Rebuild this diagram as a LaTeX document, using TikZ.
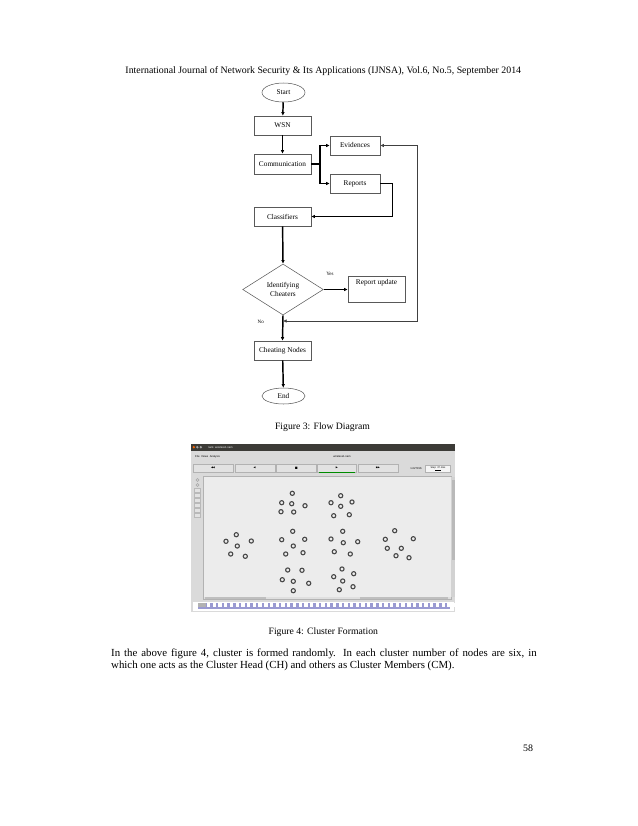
\documentclass[tikz,border=0pt]{standalone}
\usepackage{amssymb}
\usepackage{fontspec}
\setmainfont{Liberation Serif}
\setsansfont{Liberation Sans}
\usetikzlibrary{shapes.geometric,arrows.meta}
\newcommand\pxu{0.9592pt}
\definecolor{tbar}{HTML}{3C3B37}
\definecolor{winbg}{HTML}{DADADA}
\definecolor{canv}{HTML}{ECECEC}
\definecolor{btn}{HTML}{E2E2E2}
\definecolor{tline}{HTML}{9A9AD2}
\definecolor{nodegray}{HTML}{484848}
\begin{document}
\begin{tikzpicture}[x=0.9592pt,y=-0.9592pt,
  box/.style={draw=black!65,line width=0.5pt,minimum width=57*\pxu,minimum height=19*\pxu,inner sep=0pt,font=\fontsize{7}{8}\selectfont},
  sbox/.style={box,minimum width=50*\pxu},
  oval/.style={ellipse,draw=black!65,line width=0.5pt,minimum width=43*\pxu,minimum height=19*\pxu,inner sep=0pt,font=\fontsize{7}{8}\selectfont},
  flow/.style={line width=1.4pt,-{Latex[length=3.5pt,width=3.5pt]}},
  plain/.style={line width=1.4pt},
  fb/.style={line width=0.9pt,draw=black!75},
  fbarrow/.style={fb,-{Latex[length=3.5pt,width=3.5pt]}},
  lbl/.style={font=\fontsize{4.8}{5}\selectfont,inner sep=0pt},
  ptext/.style={inner sep=0pt,anchor=base west,font=\fontsize{10.4}{11.2}\selectfont},
  captext/.style={inner sep=0pt,anchor=base,font=\fontsize{9.3}{10}\selectfont},
  tiny/.style={inner sep=0pt,font=\sffamily\fontsize{2.6}{3}\selectfont},
  nodec/.style={draw=nodegray,line width=1.05pt,fill=canv}
]
\useasboundingbox[fill=white] (0,0) rectangle (638,826);

% header
\node[captext,font=\fontsize{9.46}{10}\selectfont] (hdr) at (323.3,73) {International Journal of Network Security \& Its Applications (IJNSA), Vol.6, No.5, September 2014};

% ---------- flow diagram ----------
\node[oval] (start) at (283.5,92.5) {Start};
\node[box] (wsn) at (282.5,125.5) {WSN};
\node[box,minimum height=20*\pxu] (comm) at (282.5,164) {Communication};
\node[sbox] (evid) at (355,145.5) {Evidences};
\node[sbox] (rep) at (355,183.5) {Reports};
\node[box] (clas) at (282.5,216.5) {Classifiers};
\node[diamond,draw=black!65,line width=0.5pt,minimum width=80.6*\pxu,minimum height=51*\pxu,inner sep=0pt,aspect=1.6,align=center,font=\fontsize{7}{9.2}\selectfont] (ident) at (283,289.5) {Identifying\\Cheaters};
\node[box,minimum height=25.6*\pxu,text depth=15*\pxu] (rupd) at (376.5,289.5) {Report update};
\node[box] (cheat) at (282.5,350.5) {Cheating Nodes};
\node[oval,minimum height=16*\pxu] (end) at (283.5,396) {End};

\node[lbl] (yes) at (330,274) {Yes};
\node[lbl] (no) at (260.7,321.7) {No};

\coordinate (split) at (320,164);
\coordinate (rturn) at (392.7,183.5);
\coordinate (fbtop) at (417.7,145.5);
\coordinate (fbbot) at (417.7,321);
\coordinate (join) at (283,321);

\draw[flow] (start) -- (wsn);
\draw[flow] (wsn) -- (comm);
\draw[plain] (comm.east) -- (split);
\draw[flow] (split) |- (evid.west);
\draw[flow] (split) |- (rep.west);
\draw[flow] (rep.east) -- (rturn) |- (clas.east);
\draw[flow] (clas) -- (ident.north);
\draw[flow] (ident.east) -- (rupd.west);
\draw[flow] (ident.south) -- (cheat.north);
\draw[flow] (cheat) -- (end);
\draw[fb] (fbbot) -- (fbtop);
\draw[fbarrow] (fbtop) -- (evid.east);
\draw[fbarrow] (fbbot) -- (join);

\node[captext] (cap3) at (322.5,429.5) {Figure 3: Flow Diagram};

% ---------- NAM screenshot ----------
\fill[winbg] (191.3,444) rectangle (454.7,611.7);
\fill[tbar] (191.3,444) rectangle (454.7,450.5);
\fill[orange!80!red] (193.8,447.2) circle[radius=1.3];
\fill[gray!70] (197.3,447.2) circle[radius=1.3];
\fill[gray!70] (200.8,447.2) circle[radius=1.3];
\node[tiny,anchor=west,text=white!80] (ttl) at (208,447.2) {nam: wireless1.nam};
\node[tiny,anchor=west] (menu) at (195,456.5) {File\ \ Views\ \ Analysis};
\node[tiny] (fname) at (342,456.5) {wireless1.nam};
% buttons
\foreach \a/\b/\s [count=\i] in {193/233/{$\blacktriangleleft\!\blacktriangleleft$},234.7/274.7/{$\blacktriangleleft$},276.3/316.3/{$\blacksquare$},317.3/356.3/{$\blacktriangleright$},358/398/{$\blacktriangleright\!\blacktriangleright$}}{
  \node[draw=gray!60,line width=0.3pt,fill=btn,minimum width={(\b-\a)*0.9592pt},minimum height=7.5*\pxu,inner sep=0pt,font=\fontsize{2.6}{3}\selectfont] (btn\i) at ({(\a+\b)/2},468) {\s};
}
\fill[green!55!black] (318.5,471.8) rectangle (355,472.7);
\node[tiny] (tnow) at (416,468.5) {1.027156};
\node[draw=gray!60,line width=0.3pt,fill=white!92!gray,minimum width=25*\pxu,minimum height=7*\pxu,inner sep=0pt,font=\sffamily\fontsize{2.4}{3}\selectfont,align=center] (step) at (438,468.5) {Step: 37.1ms\\[-0.5pt]\rule{5pt}{0.3pt}};
% left toolbar
\foreach \yy in {480,485}{\draw[gray!70,line width=0.5pt] (197.5,\yy) circle[radius=1.6];}
\foreach \yy in {490,495,500,505,510,515}{\draw[gray!55,line width=0.3pt,fill=btn] (194.5,\yy-2) rectangle (200.5,\yy+2);}
% canvas
\fill[canv] (203.7,476.7) rectangle (451.3,599.3);
\draw[gray!60,line width=0.4pt] (203.7,476.7) rectangle (451.3,599.3);
% scrollbars
\fill[gray!35] (451.3,476.7) rectangle (455,597);
\fill[gray!55] (452,480) rectangle (454.5,560);
\fill[gray!25] (203.7,596.5) rectangle (451.3,599.3);
\fill[gray!50] (204.7,597.3) rectangle (266.3,598.6);
\fill[gray!50] (359.7,597.3) rectangle (448,598.6);
% time line
\fill[white] (193,602) rectangle (453.5,610.5);
\fill[tline] (198,602.7) rectangle (449.7,609.3);
\foreach \k in {0,...,43}{\fill[white] ({207+\k*5.72},603.4) rectangle ({210.3+\k*5.72},606.6);}
\fill[gray!60] (198,603) rectangle (206,606.8);
% nodes
\foreach \p in {(292.3,493.3),(281.7,502.7),(291.7,503.7),(305,505.7),(281,511.7),(293.7,512),
  (340.7,495.7),(331,502.7),(352,502),(340.7,506.3),(333.7,515.7),(349.3,514.7),
  (236.3,534.7),(226,541.3),(251.3,541),(237.3,546),(230.7,554),(245.3,556.3),
  (292.7,531.3),(281.7,539.7),(304.7,539.3),(293.3,546),(285.7,554),(303,552.7),
  (342.7,531.3),(331,539),(343.3,542.7),(357.7,541.7),(334.3,551.7),(350.3,554),
  (394.7,530.7),(385.3,539.3),(413.3,538.7),(387.3,548.3),(401.3,548.3),(396,555.7),(409,557.7),
  (287.7,570),(302,570.3),(282.3,579.7),(293.3,581.3),(308.7,583.3),(293.3,590.7),
  (342,569),(353.7,573.7),(333.7,576.7),(342.7,581),(353,586.7),(339.3,589.7)}{
  \draw[nodec] \p circle[radius=2.1];
}

\node[captext] (cap4) at (323.3,634.5) {Figure 4: Cluster Formation};

% paragraph
\node[ptext] (l1) at (111,656.5) {\makebox[408.3pt][s]{In the above figure 4, cluster is formed randomly. In each cluster number of nodes are six, in}};
\node[ptext] (l2) at (111,668.5) {which one acts as the Cluster Head (CH) and others as Cluster Members (CM).};

\node[inner sep=0pt,anchor=base east,font=\fontsize{9.5}{10}\selectfont] (pg) at (533.3,751.5) {58};
\end{tikzpicture}
\end{document}
